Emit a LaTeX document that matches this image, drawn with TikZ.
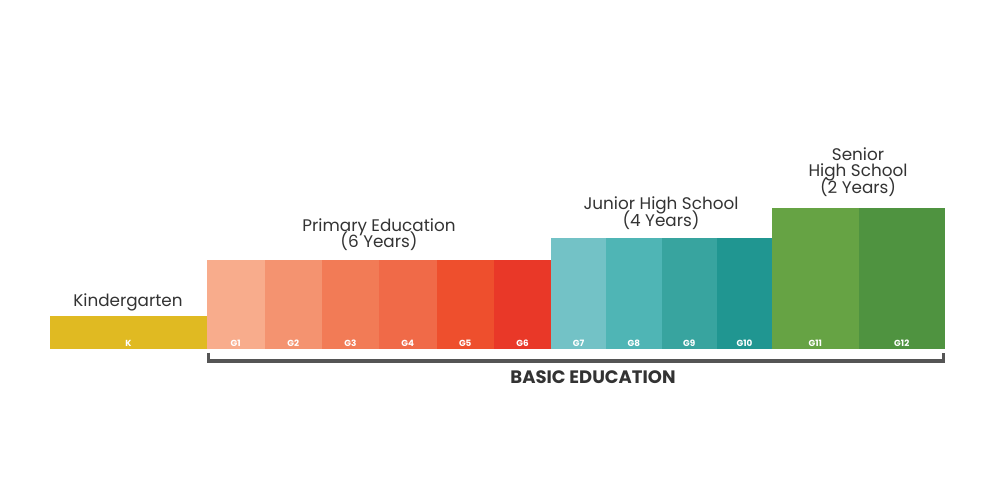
\documentclass[tikz,border=0pt]{standalone}
\usepackage{fontspec}
\setmainfont{Poppins}
\definecolor{cK}{HTML}{E0BA22}
\definecolor{cA}{HTML}{F8AC8C}
\definecolor{cB}{HTML}{F49370}
\definecolor{cC}{HTML}{F27B56}
\definecolor{cD}{HTML}{F06A48}
\definecolor{cE}{HTML}{EE4F2D}
\definecolor{cF}{HTML}{E93828}
\definecolor{cG}{HTML}{73C2C6}
\definecolor{cH}{HTML}{4FB5B5}
\definecolor{cI}{HTML}{38A49F}
\definecolor{cJ}{HTML}{209691}
\definecolor{cL}{HTML}{66A344}
\definecolor{cM}{HTML}{4F9340}
\definecolor{txt}{HTML}{333333}
\definecolor{brk}{HTML}{555555}
\begin{document}
\begin{tikzpicture}[x=1pt,y=-1pt,
  grade/.style={font=\fontsize{8.8}{10}\selectfont\bfseries, text=white, anchor=base, inner sep=0pt},
  title/.style={font=\fontsize{16.8}{17}\selectfont, text=txt, anchor=base, inner sep=0pt}]
\useasboundingbox (0,0) rectangle (985,497);
% Kindergarten
\fill[cK] (50,316) rectangle (207,349);
\node[grade] (k) at (128.5,346.5) {K};
% Primary
\foreach \a/\b/\c/\g in {207/264.5/cA/G1, 264.5/322/cB/G2, 322/379/cC/G3, 379/436.5/cD/G4, 436.5/494/cE/G5, 494/551/cF/G6}{
  \fill[\c] (\a,260) rectangle (\b,349);
  \node[grade] (\g) at ({(\a+\b)/2},346.5) {\g};
}
% Junior high
\foreach \a/\b/\c/\g in {551/606/cG/G7, 606/661.5/cH/G8, 661.5/717/cI/G9, 717/772/cJ/G10}{
  \fill[\c] (\a,238) rectangle (\b,349);
  \node[grade] (\g) at ({(\a+\b)/2},346.5) {\g};
}
% Senior high
\foreach \a/\b/\c/\g in {772/858.5/cL/G11, 858.5/945/cM/G12}{
  \fill[\c] (\a,208) rectangle (\b,349);
  \node[grade] (\g) at ({(\a+\b)/2},346.5) {\g};
}
% titles
\node[title] (kt) at (128,306.5) {Kindergarten};
\node[title] (pt1) at (379,231.7) {Primary Education};
\node[title] (pt2) at (379,247.5) {(6 Years)};
\node[title] (jt1) at (661,210) {Junior High School};
\node[title] (jt2) at (661,226) {(4 Years)};
\node[title] (st1) at (858,160.7) {Senior};
\node[title] (st2) at (858,176.9) {High School};
\node[title] (st3) at (858,193.3) {(2 Years)};
% bracket
\coordinate (b1) at (208.7,352.5);
\coordinate (b2) at (943.3,352.5);
\draw[brk, line width=3.3pt] (b1) -- ++(0,8.5) -| (b2);
\node[font=\fontsize{18}{18}\selectfont\bfseries, text=txt, anchor=base, inner sep=0pt] (be) at (593,383.5) {BASIC EDUCATION};
\end{tikzpicture}
\end{document}
